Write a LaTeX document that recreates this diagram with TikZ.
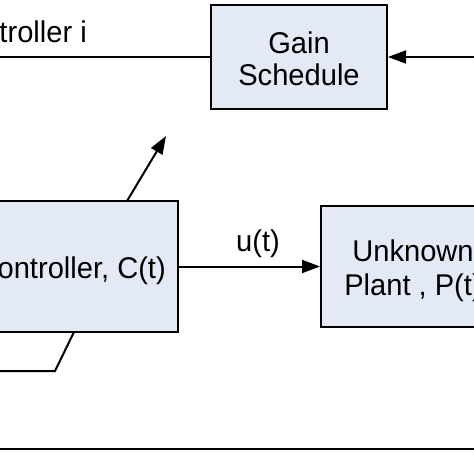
\documentclass[tikz,border=0pt]{standalone}
\usepackage{fontspec}
\setmainfont{Liberation Sans}[FakeStretch=0.97]
\usetikzlibrary{arrows.meta}
\definecolor{boxfill}{HTML}{E4EAF5}
\tikzset{
  blk/.style={draw=black, line width=2pt, fill=boxfill, inner sep=0pt, align=center},
  wire/.style={draw=black, line width=2pt},
  arr/.style={wire, -{Triangle[length=18pt,width=13pt]}},
  lbl/.style={inner sep=0pt, font=\fontsize{30}{34}\selectfont}
}
\begin{document}
\begin{tikzpicture}[x=1pt,y=-1pt]
\useasboundingbox (0,0) rectangle (474,474);
\clip (0,0) rectangle (474,474);
% blocks
\node[blk, minimum width=176pt, minimum height=104pt] (gain) at (299,57) {};
\node[lbl, anchor=base] (gt1) at (299,53) {Gain};
\node[lbl, anchor=base] (gt2) at (299,85) {Schedule};
\node[blk, minimum width=208pt, minimum height=131pt] (ctrl) at (74,266.5) {};
\node[lbl, anchor=base east] (ctxt) at (166,278) {Controller, C(t)};
\node[blk, minimum width=184pt, minimum height=121pt] (plant) at (413,266.5) {};
\node[lbl, anchor=base] (pt1) at (413,261) {Unknown};
\node[lbl, anchor=base] (pt2) at (413,295) {Plant , P(t)};
% labels
\node[lbl, anchor=base east] (ci) at (87,42) {Controller i};
\node[lbl, anchor=base] (ut) at (258,251) {u(t)};
% coordinates
\coordinate (lend) at (-5,57);
\coordinate (rend) at (480,57);
\coordinate (d0) at (127,201);
\coordinate (d1) at (166,136);
\coordinate (b0) at (74,332);
\coordinate (b1) at (55,371);
\coordinate (b2) at (-5,371);
\coordinate (f0) at (-5,449);
\coordinate (f1) at (480,449);
% connectors
\draw[wire] (gain.west) -- (lend);
\draw[arr] (rend) -- (gain.east);
\draw[arr] (ctrl.east) -- (plant.west);
\draw[arr] (d0) -- (d1);
\draw[wire] (b0) -- (b1) -- (b2);
\draw[wire] (f0) -- (f1);
\end{tikzpicture}
\end{document}
